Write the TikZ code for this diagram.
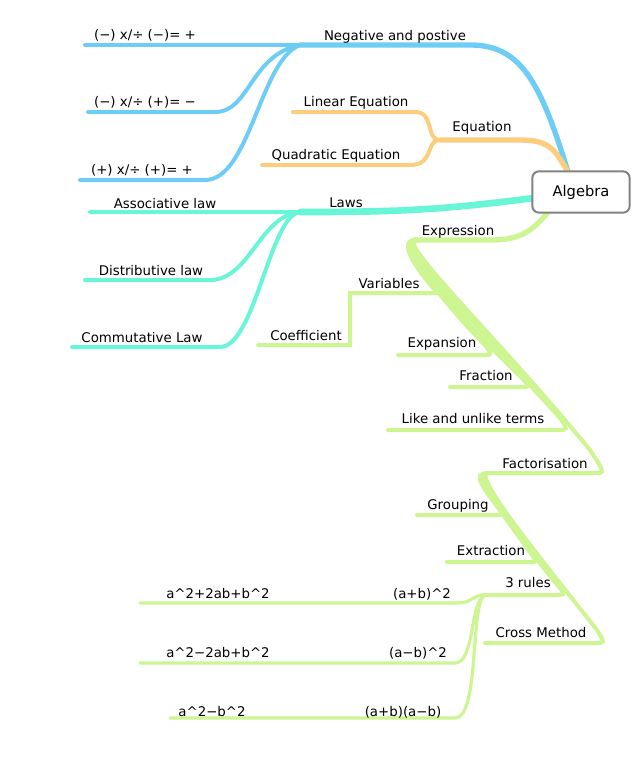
\documentclass[tikz,border=0pt]{standalone}
\usepackage{fontspec}
\setmainfont{DejaVu Sans}
\begin{document}
\begin{tikzpicture}[x=0.75pt,y=-0.75pt,
  br/.style={line width=4pt,line cap=round},
  sub/.style={line width=3pt,line cap=round},
  lbl/.style={font=\fontsize{10}{12}\selectfont,anchor=base,inner sep=0pt},
  cB/.style={draw={rgb,255:red,110;green,205;blue,245}},
  cO/.style={draw={rgb,255:red,252;green,205;blue,125}},
  cT/.style={draw={rgb,255:red,105;green,245;blue,215}},
  cG/.style={draw={rgb,255:red,205;green,245;blue,145}}]
\useasboundingbox (0,0) rectangle (642,757);
% coordinates
\coordinate (neg) at (300,45); \coordinate (eq) at (440,140);
\coordinate (laws) at (300,212); \coordinate (ex) at (415,240);
\coordinate (fac) at (488,473); \coordinate (tr) at (485,595);
% Negative
\draw[br,cB] (568,172) .. controls (540,80) and (520,45) .. (470,45) -- (neg);
\draw[sub,cB] (neg) -- (85,45);
\draw[sub,cB] (neg) .. controls (250,55) and (250,112) .. (215,112) -- (88,112);
\draw[sub,cB] (neg) .. controls (260,60) and (250,180) .. (205,180) -- (80,180);
% Equation
\draw[br,cO] (568,172) .. controls (555,150) and (550,140) .. (520,140) -- (eq);
\draw[sub,cO] (eq) .. controls (425,140) and (435,112) .. (415,112) -- (293,112);
\draw[sub,cO] (eq) .. controls (425,140) and (435,165) .. (410,165) -- (262,165);
% Laws
\draw[br,cT,line width=5pt] (534,198) .. controls (440,210) and (400,212) .. (laws);
\draw[sub,cT] (laws) -- (90,212);
\draw[sub,cT] (laws) .. controls (260,215) and (250,280) .. (210,280) -- (85,280);
\draw[sub,cT] (laws) .. controls (270,215) and (255,347) .. (220,347) -- (72,347);
% Expression
\draw[br,cG] (548,212) .. controls (530,235) and (515,240) .. (490,240) -- (ex);
\draw[sub,cG] (ex) .. controls (400,240) and (410,262) .. (435,290) .. controls (440,293) .. (435,293) -- (350,293) -- (350,345) -- (258,345);
\draw[line width=4.5pt,cG,line cap=round] (ex) .. controls (405,245) and (420,265) .. (465,315);
\draw[sub,cG] (ex) .. controls (400,245) and (440,300) .. (485,345) .. controls (492,355) .. (485,355) -- (398,355);
\draw[sub,cG] (ex) .. controls (400,245) and (460,320) .. (522,378) .. controls (530,387) .. (522,387) -- (450,387);
\draw[sub,cG] (ex) .. controls (400,245) and (480,330) .. (560,418) .. controls (568,430) .. (558,430) -- (388,430);
\draw[sub,cG] (ex) .. controls (400,245) and (500,340) .. (590,450) .. controls (605,473) .. (595,473) -- (fac);
% Factorisation children
\draw[sub,cG] (fac) .. controls (470,473) and (485,490) .. (500,510) .. controls (505,515) .. (500,515) -- (417,515);
\draw[sub,cG] (fac) .. controls (470,473) and (500,510) .. (532,555) .. controls (537,562) .. (530,562) -- (447,562);
\draw[sub,cG] (fac) .. controls (470,473) and (520,540) .. (560,588) .. controls (565,595) .. (555,595) -- (tr);
\draw[sub,cG] (fac) .. controls (470,473) and (550,570) .. (597,630) .. controls (605,643) .. (595,643) -- (485,643);
% 3 rules children
\draw[sub,cG,line width=2.4pt] (tr) .. controls (470,595) and (475,603) .. (455,603) -- (140,603);
\draw[sub,cG,line width=2.4pt] (tr) .. controls (470,600) and (475,663) .. (455,663) -- (140,663);
\draw[sub,cG,line width=2.4pt] (tr) .. controls (470,600) and (480,718) .. (455,718) -- (170,718);
% Algebra box
\node[draw={rgb,255:red,130;green,130;blue,130},line width=1.5pt,rounded corners=5pt,fill=white,minimum width=73pt,minimum height=31pt,font=\fontsize{11}{13}\selectfont] (alg) at (581,192) {Algebra};
% labels
\node[lbl] (t1) at (395,40) {Negative and postive};
\node[lbl] (t2) at (145,39) {(−) x/÷ (−)= +};
\node[lbl] (t3) at (145,106) {(−) x/÷ (+)= −};
\node[lbl] (t4) at (142,174) {(+) x/÷ (+)= +};
\node[lbl] (t5) at (356,106) {Linear Equation};
\node[lbl] (t6) at (482,131) {Equation};
\node[lbl] (t7) at (336,159) {Quadratic Equation};
\node[lbl] (t8) at (346,207) {Laws};
\node[lbl] (t9) at (165,208) {Associative law};
\node[lbl] (t10) at (151,275) {Distributive law};
\node[lbl] (t11) at (142,342) {Commutative Law};
\node[lbl] (t12) at (458,235) {Expression};
\node[lbl] (t13) at (389,288) {Variables};
\node[lbl] (t14) at (306,340) {Coefficient};
\node[lbl] (t15) at (442,347) {Expansion};
\node[lbl] (t16) at (486,380) {Fraction};
\node[lbl] (t17) at (473,423) {Like and unlike terms};
\node[lbl] (t18) at (545,468) {Factorisation};
\node[lbl] (t19) at (458,509) {Grouping};
\node[lbl] (t20) at (491,555) {Extraction};
\node[lbl] (t21) at (528,587) {3 rules};
\node[lbl] (t22) at (541,637) {Cross Method};
\node[lbl] (t23) at (218,598) {a\^{}2+2ab+b\^{}2};
\node[lbl] (t24) at (422,598) {(a+b)\^{}2};
\node[lbl] (t25) at (218,657) {a\^{}2−2ab+b\^{}2};
\node[lbl] (t26) at (418,657) {(a−b)\^{}2};
\node[lbl] (t27) at (212,716) {a\^{}2−b\^{}2};
\node[lbl] (t28) at (403,716) {(a+b)(a−b)};
\end{tikzpicture}
\end{document}
